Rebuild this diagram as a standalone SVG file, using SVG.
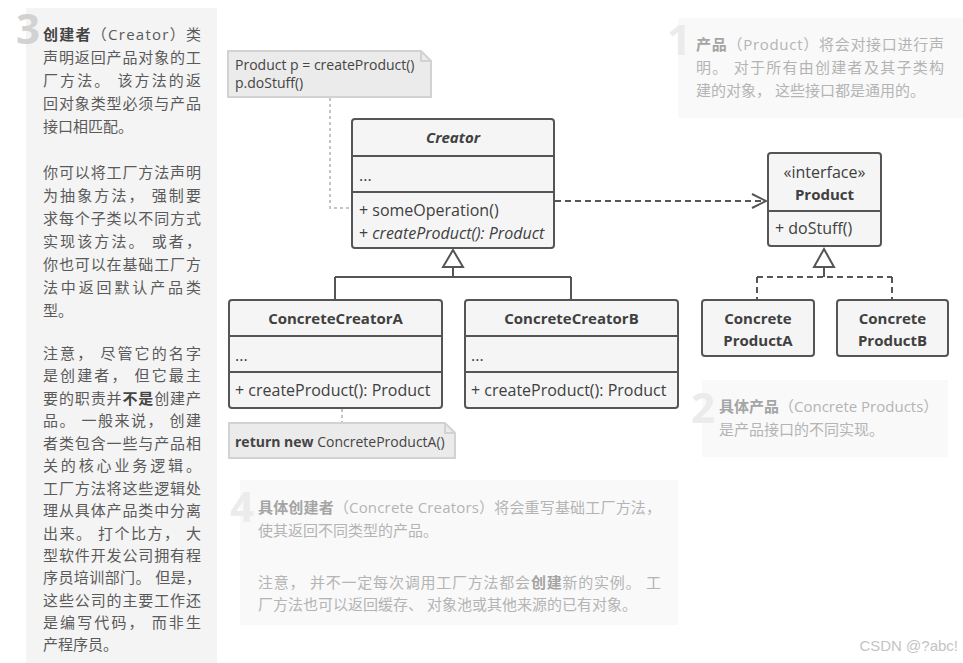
<svg xmlns="http://www.w3.org/2000/svg" width="963" height="663" viewBox="0 0 963 663">
<style>
.cjk{font-family:"Open Sans","Noto Sans CJK SC",sans-serif;font-size:15px}
.side{fill:#5a5a5a}
.sideb{font-weight:bold;fill:#444}
.faint{fill:#b4b4b4}
.faintb{font-weight:bold;fill:#a4a4a4}
.num{font-family:"Open Sans","Liberation Sans",sans-serif;font-weight:bold;font-size:42px}
.box{fill:#f5f5f5;stroke:#555;stroke-width:2}
.div{stroke:#555;stroke-width:2}
.uml{font-family:"Open Sans","Liberation Sans",sans-serif;font-size:16px;fill:#404040}
.ttl{font-family:"Open Sans","Liberation Sans",sans-serif;font-size:15px;font-weight:bold;fill:#404040}
.bold{font-weight:bold}
.note{fill:#ebebeb;stroke:#d2d2d2;stroke-width:2}
.notet{font-family:"Open Sans","Liberation Sans",sans-serif;font-size:14px;fill:#444}
.line{stroke:#555;stroke-width:2;fill:none}
.dash{stroke:#555;stroke-width:2;fill:none;stroke-dasharray:6 4}
.dot{stroke:#c4c4c4;stroke-width:2;fill:none;stroke-dasharray:3 3}
</style>
<rect width="963" height="663" fill="#ffffff"/>

<!-- panel 3 -->
<g id="panel3">
<rect x="26" y="8" width="191" height="655" fill="#f4f4f4"/>
<text class="num" x="16" y="44" fill="#d2d2d2">3</text>
<g class="cjk side">
<text x="43" y="40" textLength="158" lengthAdjust="spacing"><tspan class="sideb">创建者</tspan>（Creator）类</text>
<text x="43" y="63" textLength="158" lengthAdjust="spacing">声明返回产品对象的工</text>
<text x="43" y="86" textLength="158" lengthAdjust="spacing">厂方法。 该方法的返</text>
<text x="43" y="109" textLength="158" lengthAdjust="spacing">回对象类型必须与产品</text>
<text x="43" y="132">接口相匹配。</text>
<text x="43" y="178" textLength="158" lengthAdjust="spacing">你可以将工厂方法声明</text>
<text x="43" y="201" textLength="158" lengthAdjust="spacing">为抽象方法， 强制要</text>
<text x="43" y="224" textLength="158" lengthAdjust="spacing">求每个子类以不同方式</text>
<text x="43" y="247" textLength="158" lengthAdjust="spacing">实现该方法。 或者，</text>
<text x="43" y="270" textLength="158" lengthAdjust="spacing">你也可以在基础工厂方</text>
<text x="43" y="293" textLength="158" lengthAdjust="spacing">法中返回默认产品类</text>
<text x="43" y="316">型。</text>
<text x="43" y="359" textLength="158" lengthAdjust="spacing">注意， 尽管它的名字</text>
<text x="43" y="381" textLength="158" lengthAdjust="spacing">是创建者， 但它最主</text>
<text x="43" y="404" textLength="158" lengthAdjust="spacing">要的职责并<tspan class="sideb">不是</tspan>创建产</text>
<text x="43" y="426" textLength="158" lengthAdjust="spacing">品。 一般来说， 创建</text>
<text x="43" y="449" textLength="158" lengthAdjust="spacing">者类包含一些与产品相</text>
<text x="43" y="471" textLength="158" lengthAdjust="spacing">关的核心业务逻辑。</text>
<text x="43" y="494" textLength="158" lengthAdjust="spacing">工厂方法将这些逻辑处</text>
<text x="43" y="516" textLength="158" lengthAdjust="spacing">理从具体产品类中分离</text>
<text x="43" y="539" textLength="158" lengthAdjust="spacing">出来。 打个比方， 大</text>
<text x="43" y="561" textLength="158" lengthAdjust="spacing">型软件开发公司拥有程</text>
<text x="43" y="583" textLength="158" lengthAdjust="spacing">序员培训部门。 但是，</text>
<text x="43" y="606" textLength="158" lengthAdjust="spacing">这些公司的主要工作还</text>
<text x="43" y="628" textLength="158" lengthAdjust="spacing">是编写代码， 而非生</text>
<text x="43" y="650">产程序员。</text>
</g>
</g>

<!-- panel 1 -->
<g id="panel1">
<rect x="678" y="18" width="285" height="100" fill="#f9f9f9"/>
<text class="num" x="667" y="55" fill="#ebebeb">1</text>
<g class="cjk faint">
<text x="696" y="50" textLength="248" lengthAdjust="spacing"><tspan class="faintb">产品</tspan>（Product）将会对接口进行声</text>
<text x="696" y="73" textLength="248" lengthAdjust="spacing">明。 对于所有由创建者及其子类构</text>
<text x="696" y="96">建的对象， 这些接口都是通用的。</text>
</g>
</g>

<!-- panel 2 -->
<g id="panel2">
<rect x="702" y="380" width="246" height="77" fill="#f9f9f9"/>
<text class="num" x="691" y="423" fill="#ebebeb">2</text>
<g class="cjk faint">
<text x="719" y="412"><tspan class="faintb">具体产品</tspan>（Concrete Products）</text>
<text x="719" y="435">是产品接口的不同实现。</text>
</g>
</g>

<!-- panel 4 -->
<g id="panel4">
<rect x="240" y="480" width="438" height="145" fill="#f9f9f9"/>
<text class="num" x="230" y="522" fill="#ebebeb">4</text>
<g class="cjk faint">
<text x="258" y="513" textLength="403" lengthAdjust="spacing"><tspan class="faintb">具体创建者</tspan>（Concrete Creators）将会重写基础工厂方法，</text>
<text x="258" y="536">使其返回不同类型的产品。</text>
<text x="258" y="588" textLength="403" lengthAdjust="spacing">注意， 并不一定每次调用工厂方法都会<tspan class="faintb">创建</tspan>新的实例。 工</text>
<text x="258" y="610">厂方法也可以返回缓存、 对象池或其他来源的已有对象。</text>
</g>
</g>

<!-- connectors -->
<g id="connectors">
<path class="dot" d="M330 98 V208 H351"/>
<path class="dot" d="M342 409 V423"/>
<path class="line" d="M453 267 V277 M335 277 H571 M335 277 V300 M571 277 V300"/>
<path d="M453 250 L463 267 L443 267 Z" fill="#fff" stroke="#555" stroke-width="2"/>
<path class="dash" d="M555 201 H765"/>
<path class="line" d="M752 194 L766 201 L752 208"/>
<path class="line" d="M824 267 V277"/>
<path class="dash" d="M757 277 H892 M757 277 V300 M892 277 V300"/>
<path d="M824 249 L834 267 L814 267 Z" fill="#fff" stroke="#555" stroke-width="2"/>
</g>

<!-- note 1 -->
<g id="note1">
<path class="note" d="M228 51 H421 L431 61 V97 H228 Z"/>
<path d="M421 51 V61 H431" fill="none" stroke="#d2d2d2" stroke-width="2"/>
<text class="notet" x="235" y="70">Product p = createProduct()</text>
<text class="notet" x="235" y="88">p.doStuff()</text>
</g>

<!-- note 2 -->
<g id="note2">
<path class="note" d="M229 423 H445 L455 433 V458 H229 Z"/>
<path d="M445 423 V433 H455" fill="none" stroke="#d2d2d2" stroke-width="2"/>
<text class="notet" x="235" y="447"><tspan class="bold">return new</tspan> ConcreteProductA()</text>
</g>

<!-- Creator -->
<g id="creator">
<rect class="box" x="352" y="119" width="202" height="129" rx="3"/>
<path class="div" d="M352 156 H554 M352 192 H554"/>
<text class="ttl" x="453" y="143" text-anchor="middle" font-style="italic">Creator</text>
<text class="uml" x="359" y="181">...</text>
<text class="uml" x="359" y="216">+ someOperation()</text>
<text class="uml" x="359" y="239">+ <tspan font-style="italic">createProduct(): Product</tspan></text>
</g>

<!-- ConcreteCreatorA -->
<g id="concreteCreatorA">
<rect class="box" x="229" y="300" width="213" height="108" rx="3"/>
<path class="div" d="M229 336 H442 M229 372 H442"/>
<text class="ttl" x="335.5" y="324" text-anchor="middle">ConcreteCreatorA</text>
<text class="uml" x="235" y="361">...</text>
<text class="uml" x="235" y="396">+ createProduct(): Product</text>
</g>

<!-- ConcreteCreatorB -->
<g id="concreteCreatorB">
<rect class="box" x="465" y="300" width="213" height="108" rx="3"/>
<path class="div" d="M465 336 H678 M465 372 H678"/>
<text class="ttl" x="571.5" y="324" text-anchor="middle">ConcreteCreatorB</text>
<text class="uml" x="471" y="361">...</text>
<text class="uml" x="471" y="396">+ createProduct(): Product</text>
</g>

<!-- Product -->
<g id="product">
<rect class="box" x="768" y="153" width="113" height="93" rx="3"/>
<path class="div" d="M768 211 H881"/>
<text class="uml" x="824.5" y="178" text-anchor="middle">«interface»</text>
<text class="ttl" x="824.5" y="200" text-anchor="middle">Product</text>
<text class="uml" x="775" y="234">+ doStuff()</text>
</g>

<!-- ConcreteProductA -->
<g id="concreteProductA">
<rect class="box" x="702" y="300" width="112" height="56" rx="3"/>
<text class="ttl" x="758" y="324" text-anchor="middle">Concrete</text>
<text class="ttl" x="758" y="346" text-anchor="middle">ProductA</text>
</g>

<!-- ConcreteProductB -->
<g id="concreteProductB">
<rect class="box" x="837" y="300" width="111" height="56" rx="3"/>
<text class="ttl" x="892.5" y="324" text-anchor="middle">Concrete</text>
<text class="ttl" x="892.5" y="346" text-anchor="middle">ProductB</text>
</g>

<text x="958" y="651" text-anchor="end" font-family="'Liberation Sans',Arial,sans-serif" font-size="15" fill="#c4c4c4">CSDN @?abc!</text>
</svg>
